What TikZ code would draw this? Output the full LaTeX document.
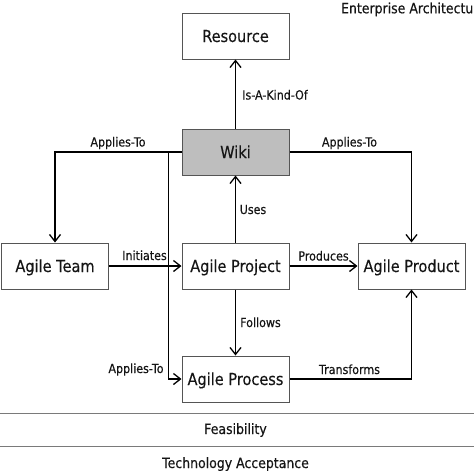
\documentclass[tikz,border=0pt]{standalone}
\usepackage{fontspec}
\setmainfont{DejaVu Sans}[FakeStretch=0.88,FakeBold=0.3]
\usetikzlibrary{arrows.meta}
\definecolor{boxline}{HTML}{555555}
\definecolor{wikifill}{HTML}{BEBEBE}
\definecolor{txt}{HTML}{151515}
\definecolor{sepline}{HTML}{7A7A7A}
\tikzset{
  entity/.style={draw=boxline, line width=1pt, fill=white, minimum width=107pt, minimum height=46pt,
    inner sep=0pt, text=txt, font=\fontsize{16.5}{18}\selectfont, text height=12pt, text depth=0pt},
  conn/.style={line width=1.3pt, draw=black, -{Straight Barb[length=7pt,width=11pt,line width=1.3pt]}},
  lbl/.style={anchor=base, inner sep=0pt, text=txt, font=\fontsize{12.6}{14}\selectfont},
  band/.style={anchor=base, inner sep=0pt, text=txt, font=\fontsize{14.2}{16}\selectfont},
}
\begin{document}
\begin{tikzpicture}[x=1pt,y=-1pt]
\useasboundingbox (0,0) rectangle (474,474);
\clip (0,0) rectangle (474,474);
\fill[white] (0,0) rectangle (474,474);

% nodes
\node[entity] (resource) at (235.5,36) {Resource};
\node[entity, fill=wikifill] (wiki) at (235.5,152) {Wiki};
\node[entity] (team) at (55,266) {Agile Team};
\node[entity] (project) at (235.5,266) {Agile Project};
\node[entity] (product) at (411.5,266) {Agile Product};
\node[entity] (process) at (235.5,379) {Agile Process};
\coordinate (jl) at (168.3,0);

% connectors
\draw[conn] (wiki.north) -- (resource.south);
\draw[conn] (wiki.west) -| (team.north);
\draw[conn] (wiki.east) -| (product.north);
\draw[conn] (project.north) -- (wiki.south);
\draw[conn] (team.east) -- (project.west);
\draw[conn] (project.east) -- (product.west);
\draw[conn] (project.south) -- (process.north);
\draw[conn] (process.east) -| (product.south);
\draw[conn] (wiki.west) -| (jl |- process.west) -- (process.west);

% labels
\node[lbl] (l1) at (275,99.5) {Is-A-Kind-Of};
\node[lbl] (l2) at (118,146.5) {Applies-To};
\node[lbl] (l3) at (349.5,146.5) {Applies-To};
\node[lbl] (l4) at (253,214) {Uses};
\node[lbl] (l5) at (144.5,260) {Initiates};
\node[lbl] (l6) at (323.5,260.5) {Produces};
\node[lbl] (l7) at (260.5,327) {Follows};
\node[lbl] (l8) at (136,373) {Applies-To};
\node[lbl] (l9) at (349.5,374) {Transforms};

% bands
\coordinate (s1a) at (0,413.3); \coordinate (s1b) at (474,413.3);
\coordinate (s2a) at (0,446.7); \coordinate (s2b) at (474,446.7);
\draw[sepline, line width=1.4pt] (s1a) -- (s1b);
\draw[sepline, line width=1.4pt] (s2a) -- (s2b);
\node[band] (feas) at (235.5,434) {Feasibility};
\node[band] (tech) at (235.5,468) {Technology Acceptance};
\node[band, anchor=base east] (ea) at (473.5,13.3) {Enterprise Architectu};
\end{tikzpicture}
\end{document}
